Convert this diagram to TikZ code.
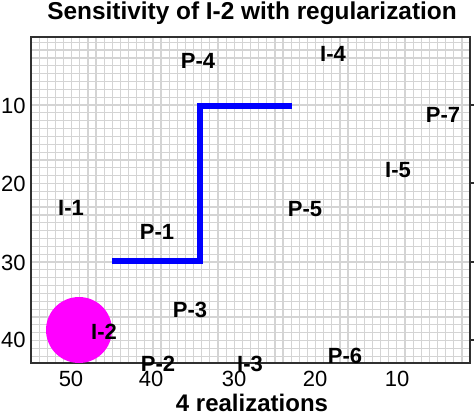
\documentclass[tikz,border=0pt]{standalone}
\usepackage{fontspec}
\setmainfont{Liberation Sans}
\usepackage{xcolor}
\usepackage{tikz}
\usetikzlibrary{positioning}
\definecolor{gridline}{HTML}{D4D4D4}
\definecolor{frame}{HTML}{303030}
\definecolor{route}{HTML}{0000FF}
\definecolor{spot}{HTML}{FF00FF}
\newcommand{\labfont}{\fontsize{11}{11}\selectfont}

\begin{document}
\begin{tikzpicture}[x=0.5pt,y=-0.5pt,
    well/.style={font=\labfont\bfseries, inner sep=0pt, anchor=base},
    ticklab/.style={font=\labfont, inner sep=0pt, anchor=base}]
  \useasboundingbox (0,0) rectangle (474,413);
  % grid
  \begin{scope}
    \clip (31,37) rectangle (470,363);
    \foreach \k in {0,...,54}
      \draw[gridline, line width=0.6pt] ({31+8.13*\k},37) -- ({31+8.13*\k},363);
    \foreach \k in {-8,...,32}
      \draw[gridline, line width=0.6pt] (31,{105+7.85*\k}) -- (470,{105+7.85*\k});
  \end{scope}
  \draw[frame, line width=0.8pt] (31,37) rectangle (470,363);
  \foreach \yy in {105,183,262,340}
    \draw[frame, line width=0.6pt] (470,\yy) -- (474,\yy);

  % injector spot and path
  \node[circle, fill=spot, minimum size=33pt, inner sep=0pt] (spot) at (79,330) {};
  \coordinate (r1) at (112,261);
  \coordinate (r2) at (200,261);
  \coordinate (r3) at (200,106);
  \coordinate (r4) at (292,106);
  \draw[route, line width=3pt, line join=miter] (r1) -- (r2) -- (r3) -- (r4);

  % axis labels
  \node[ticklab] (x50) at (71,386) {50};
  \node[ticklab] (x40) at (151,386) {40};
  \node[ticklab] (x30) at (234,386) {30};
  \node[ticklab] (x20) at (315,386) {20};
  \node[ticklab] (x10) at (397,386) {10};
  \node[ticklab, anchor=base east] (y10) at (26,113) {10};
  \node[ticklab, anchor=base east] (y20) at (26,191) {20};
  \node[ticklab, anchor=base east] (y30) at (26,270) {30};
  \node[ticklab, anchor=base east] (y40) at (26,347) {40};

  % wells
  \node[well] (p4) at (198,68) {P-4};
  \node[well] (i4) at (333,61) {I-4};
  \node[well] (p7) at (443,122) {P-7};
  \node[well] (i5) at (398,177) {I-5};
  \node[well] (i1) at (71,215) {I-1};
  \node[well] (p1) at (157,239) {P-1};
  \node[well] (p5) at (305,216) {P-5};
  \node[well] (p3) at (190,317) {P-3};
  \node[well] (i2) at (104,339) {I-2};
  \node[well] (p2) at (158,371) {P-2};
  \node[well] (i3) at (250,371) {I-3};
  \node[well] (p6) at (345,363) {P-6};

  % titles
  \node[font=\fontsize{12.2}{12.2}\selectfont\bfseries, inner sep=0pt, anchor=base]
    (title) at (252,19) {Sensitivity of I-2 with regularization};
  \node[font=\fontsize{12}{12}\selectfont\bfseries, inner sep=0pt, anchor=base]
    (xlab) at (252,411) {4 realizations};
\end{tikzpicture}
\end{document}
